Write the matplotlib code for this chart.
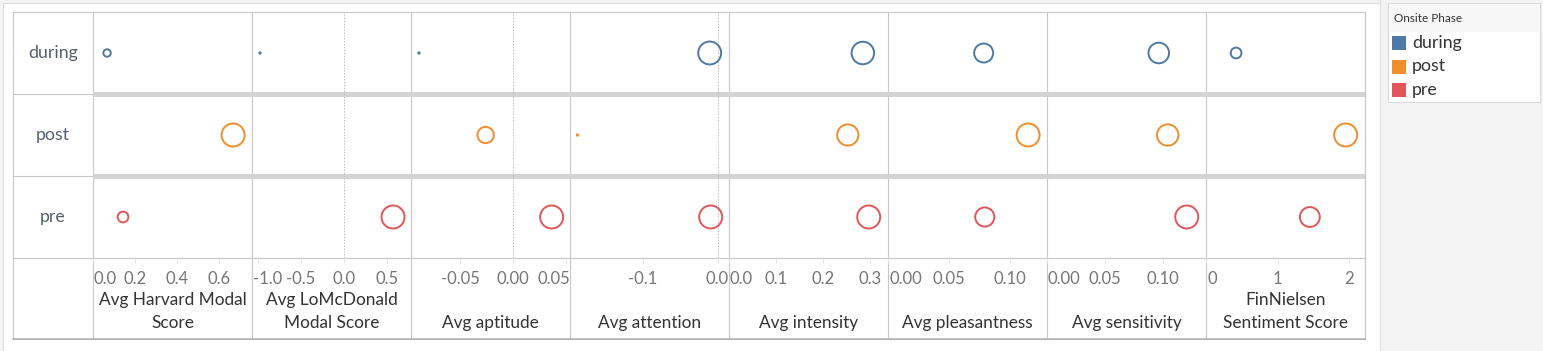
import numpy as np
import matplotlib.pyplot as plt
from matplotlib.patches import Rectangle
from matplotlib.transforms import Affine2D, blended_transform_factory

W, H = 1543, 351
plt.rcParams['font.family'] = ['Lato', 'DejaVu Sans']

# Onsite phases (rows) and their colours
phases = ['during', 'post', 'pre']
phase_colors = ['#4e79a7', '#f28e2b', '#e15759']

# measure columns
measures = ['Avg Harvard Modal\nScore', 'Avg LoMcDonald\nModal Score', 'Avg aptitude',
            'Avg attention', 'Avg intensity', 'Avg pleasantness', 'Avg sensitivity',
            'FinNielsen\nSentiment Score']

# averages per phase: during, post, pre
harvard = [0.067, 0.667, 0.143]
lomcdonald = [-0.977, np.nan, 0.57]
aptitude = [-0.0887, -0.0258, 0.0365]
attention = [-0.011, -0.187, -0.0097]
intensity = [0.2845, 0.2525, 0.297]
pleasantness = [0.0784, 0.1148, 0.0793]
sensitivity = [0.0963, 0.104, 0.1204]
finnielsen = [0.42, 1.95, 1.45]
values = [harvard, lomcdonald, aptitude, attention, intensity,
          pleasantness, sensitivity, finnielsen]

# axis ranges and ticks
axis_ranges = [(0, 0.757), (-1.07, 0.779), (-0.0962, 0.0538), (-0.197, 0.0147),
               (0, 0.338), (0, 0.1303), (0, 0.137), (0, 2.22)]
axis_ticks = [[0, 0.2, 0.4, 0.6], [-1.0, -0.5, 0, 0.5], [-0.05, 0, 0.05], [-0.1, 0],
              [0, 0.1, 0.2, 0.3], [0, 0.05, 0.10], [0, 0.05, 0.10], [0, 1, 2]]
tick_fmt = ['{:.1f}', '{:.1f}', '{:.2f}', '{:.1f}', '{:.1f}', '{:.2f}', '{:.2f}', '{:.0f}']

fig = plt.figure(figsize=(W / 100, H / 100), dpi=100, facecolor='#f3f3f3')


def px(x, y, w, h):
    return [x / W, 1 - (y + h) / H, w / W, h / H]


# background axes in pixel coordinates (y down)
bg = fig.add_axes([0, 0, 1, 1])
bg.set_xlim(0, W)
bg.set_ylim(H, 0)
bg.axis('off')
bg.add_patch(Rectangle((3, 3), 1377, 360, facecolor='white', edgecolor='#dcdcdc', lw=0.8))

grid = '#c8c8c8'
left, top, bottom, axis_top = 13, 12, 339, 258
col0, colw = 93, 159
ncol = len(measures)
right = col0 + colw * ncol
row_h = (axis_top - top) / len(phases)

bg.plot([left, right, right, left, left], [top, top, bottom, bottom, top], color=grid, lw=0.8)
for i in range(ncol + 1):
    bg.plot([col0 + colw * i] * 2, [top, bottom], color=grid, lw=0.8)
bg.plot([left, right], [bottom, bottom], color='#b0b0b0', lw=1.1)
bg.plot([left, right], [axis_top, axis_top], color=grid, lw=0.8)
for j in range(1, len(phases)):
    bg.plot([left, col0], [top + row_h * j] * 2, color=grid, lw=0.8)

for j, ph in enumerate(phases):
    bg.text((left + col0) / 2, top + row_h * (j + 0.5), ph, ha='center', va='center',
            fontsize=12.8, color='#56606c')

tick_texts = []
for i, (name, vals) in enumerate(zip(measures, values)):
    ax = fig.add_axes(px(col0 + colw * i, top, colw, axis_top - top))
    ax.patch.set_alpha(0)
    for s in ax.spines.values():
        s.set_visible(False)
    lo, hi = axis_ranges[i]
    ax.set_xlim(lo, hi)
    ax.set_ylim(0, len(phases))
    ax.set_yticks([])
    ax.set_xticks(axis_ticks[i])
    ax.set_xticklabels([])
    ax.tick_params(axis='x', length=3.5, width=0.7, color='#e3e3e3')

    for j in range(1, len(phases)):
        ax.axhline(j, color='#d4d4d4', lw=3.6, zorder=1)
    if lo < 0 < hi:
        ax.axvline(0, color='#bdbdbd', lw=0.7, ls=(0, (1.5, 1.5)), zorder=1)

    v = np.array(vals, dtype=float)
    base = min(0.0, np.nanmin(v))
    frac = (v - base) / (np.nanmax(v) - base)
    sizes = 1 + 273 * frac
    ys = len(phases) - 0.5 - np.arange(len(phases))
    ax.scatter(v, ys, s=sizes, facecolors='none', edgecolors=phase_colors,
               linewidths=1.4, zorder=3, clip_on=False)

    tr = blended_transform_factory(ax.transData, bg.transData)
    for t in axis_ticks[i]:
        lab = tick_fmt[i].format(t)
        if lab.startswith('-') and float(lab) == 0:
            lab = lab[1:]
        txt = ax.text(t, 283.5, lab, transform=tr, ha='center', va='baseline',
                      fontsize=12, color='#767676', clip_on=False)
        tick_texts.append((ax, txt))

    bg.text(col0 + colw * (i + 0.5), 331, name, ha='center', va='bottom',
            fontsize=12.4, color='#333333', linespacing=1.55)

# keep tick labels inside their column, as Tableau does
fig.canvas.draw()
for ax, txt in tick_texts:
    bb = txt.get_window_extent()
    ab = ax.get_window_extent()
    dx = 0
    if bb.x0 < ab.x0:
        dx = ab.x0 - bb.x0 + 1
    elif bb.x1 > ab.x1:
        dx = ab.x1 - bb.x1
    if dx:
        txt.set_transform(txt.get_transform() + Affine2D().translate(dx, 0))

# legend
bg.plot([1380, 1380], [0, H], color='#e0e0e0', lw=0.8)
bg.add_patch(Rectangle((1388, 3), 152, 99, facecolor='white', edgecolor='#d9d9d9', lw=0.8))
bg.add_patch(Rectangle((1389, 4), 150, 28, facecolor='#f7f7f7', edgecolor='none'))
bg.text(1394, 18, 'Onsite Phase', ha='left', va='center', fontsize=8.5, color='#333333')
for j, (ph, c) in enumerate(zip(phases, phase_colors)):
    cy = 43 + 23.5 * j
    bg.add_patch(Rectangle((1392, cy - 7), 14, 14, facecolor=c, edgecolor='none'))
    bg.text(1412, cy, ph, ha='left', va='center', fontsize=12.8, color='#333333')

fig.savefig('out.png', dpi=100, facecolor=fig.get_facecolor())
